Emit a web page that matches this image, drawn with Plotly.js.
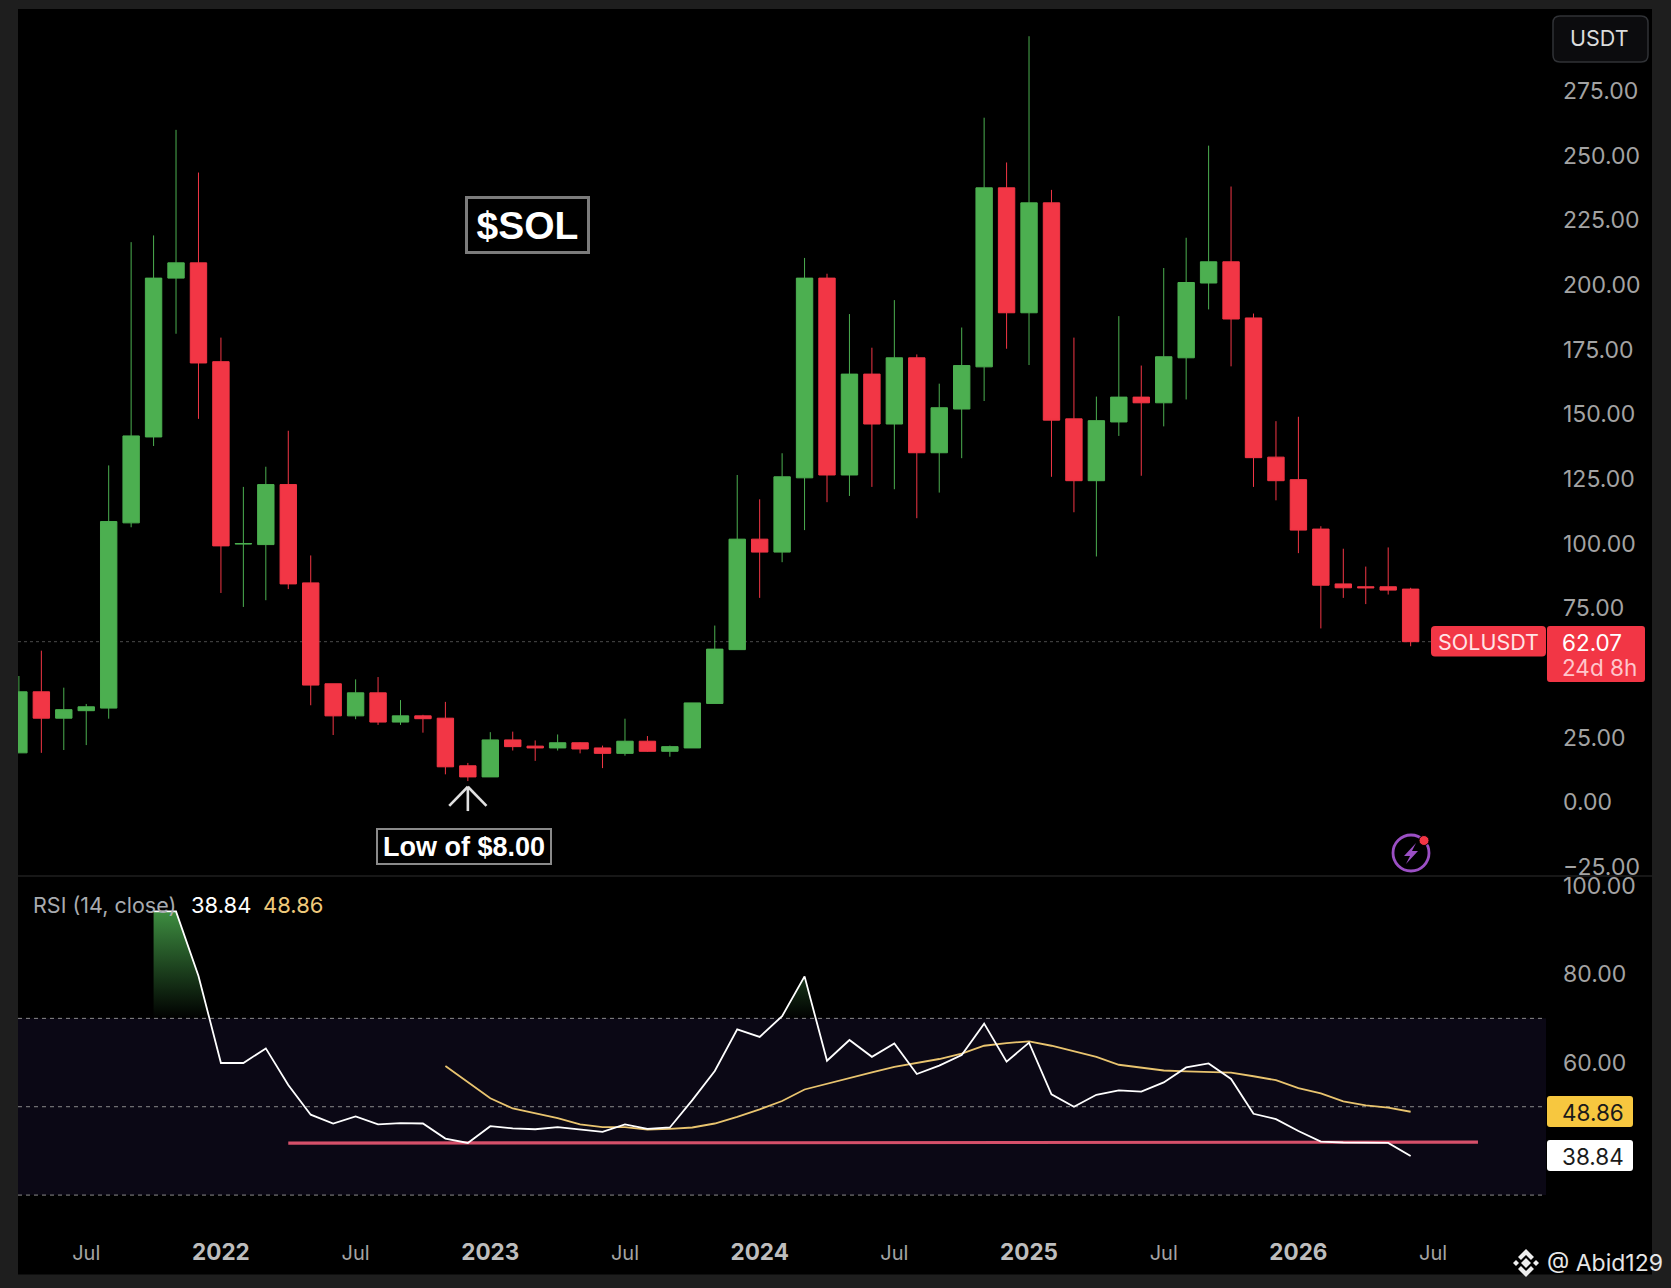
<!DOCTYPE html>
<html><head><meta charset="utf-8">
<script src="https://cdn.plot.ly/plotly-3.0.1.min.js"></script>
<style>html,body{margin:0;padding:0;background:#1e1e1e}#c{width:1671px;height:1288px}</style>
</head><body><div id="c"></div>
<script>
const months=["Apr 2021","May 2021","Jun 2021","Jul 2021","Aug 2021","Sep 2021","Oct 2021","Nov 2021","Dec 2021",
"Jan 2022","Feb 2022","Mar 2022","Apr 2022","May 2022","Jun 2022","Jul 2022","Aug 2022","Sep 2022","Oct 2022","Nov 2022","Dec 2022",
"Jan 2023","Feb 2023","Mar 2023","Apr 2023","May 2023","Jun 2023","Jul 2023","Aug 2023","Sep 2023","Oct 2023","Nov 2023","Dec 2023",
"Jan 2024","Feb 2024","Mar 2024","Apr 2024","May 2024","Jun 2024","Jul 2024","Aug 2024","Sep 2024","Oct 2024","Nov 2024","Dec 2024",
"Jan 2025","Feb 2025","Mar 2025","Apr 2025","May 2025","Jun 2025","Jul 2025","Aug 2025","Sep 2025","Oct 2025","Nov 2025","Dec 2025",
"Jan 2026","Feb 2026","Mar 2026","Apr 2026","May 2026","Jun 2026"];
const opens=[19.1,42.7,32.5,35.4,36.4,108,141.2,202.6,208.5,170.3,99.8,99.6,122.8,84.8,45.8,33.4,42.3,31,33.4,32.5,14.1,9.8,24.1,21.7,21,23,21,18.9,23.6,19.7,21,38.2,59,101.7,96.7,125.4,202.6,126.5,165.5,146.2,171.8,135.1,152,168.3,237.5,189.2,231.7,148.2,124.3,147,156.6,154.4,171.8,200.7,208.9,187.2,133.4,124.7,105.6,84.4,83.3,83.3,82.4];
const highs=[48.8,58.6,44.3,38,130.2,216.5,219.1,259.9,243.4,179.6,121.9,129.7,143.6,95.4,45.8,47.5,48.4,39.5,33.8,38.8,15.2,27.1,27.3,23.9,26.2,23.2,21.9,32.3,25.6,21.9,38.4,68.3,126.5,117.1,134.9,210.4,204.3,188.7,175.7,194.1,173.1,161.8,183.5,264.6,247.3,296.1,236.7,179.6,156.8,187.9,168.8,206.5,218.2,253.8,238,188.9,147.3,149,106.7,98,91.1,98.5,82.9];
const lows=[19.1,19.1,20.2,22.1,32.3,106.3,137.7,181.1,148.2,80.9,75.5,78.1,82.4,37.5,26,32.1,29.9,29.9,26.9,10.8,8.2,9.8,20,16,20,18.9,13.2,18,19.5,17.6,21,38.2,59,79,92.8,105.2,116,118.4,121.9,121,109.8,119.7,133,155.1,175.3,169,125.8,112.1,95,141.6,126.2,145.3,155.7,190.5,168.5,121.9,116.7,96.3,67.2,79,76.6,80.3,60.3];
const closes=[42.7,32.5,35.8,36.9,108.5,141.6,202.6,208.5,169.8,99.1,100,122.8,84.4,45.3,33.4,42.3,31,33.4,32.3,13.7,9.8,24.1,21.5,21,23,20.6,18.9,23.6,19.7,21.5,38.4,59.2,101.7,96.7,125.8,202.6,126.5,165.5,146.2,171.8,135.1,152.5,168.8,237.5,189.2,231.7,147.7,124.3,147.5,156.6,154.4,172.2,200.9,208.9,186.8,133.2,124.3,105.2,83.9,82.9,82.9,82,62.07];
const rsiValues=[null,null,null,null,null,null,94.2,94.2,79.6,59.9,59.9,63.2,54.9,48.2,46.2,47.8,46.0,46.3,46.2,42.8,41.8,45.6,45.1,44.9,45.4,44.8,44.3,46.0,45.0,45.3,51.5,58.1,67.5,65.8,70.5,79.5,60.4,65.1,61.3,64.3,57.4,59.3,61.7,68.8,60.2,64.5,52.8,50.0,52.7,53.7,53.4,55.5,58.9,59.8,56.3,48.4,47.2,44.5,42.1,41.9,41.9,41.8,38.84];
const rsiMa=[null,null,null,null,null,null,null,null,null,null,null,null,null,null,null,null,null,null,null,59.2,55.5,51.9,49.6,48.5,47.4,46.0,45.4,45.4,44.8,45.0,45.3,46.2,47.7,49.4,51.3,53.9,55.2,56.6,57.8,59.0,59.9,60.8,62.0,63.8,64.4,64.8,63.8,62.6,61.3,59.5,58.9,58.2,58.0,57.8,57.7,56.9,56.0,54.2,53.0,51.2,50.3,49.8,48.86];
const priceTicks=[-25,0,25,75,100,125,150,175,200,225,250,275];
const rsiTicks=[60,80,100];
const rsiLevels=[70,50,30];
const timeLabels=["Jul","2022","Jul","2023","Jul","2024","Jul","2025","Jul","2026","Jul"];
const timeTickIndex=[3,9,15,21,27,33,39,45,51,57,63];
const supportX=[12,65];
const supportY=[41.75,42.0];
const lastPrice=62.07;

const W=1671,H=1288;
const GREEN='#4CAF50',RED='#F23645';
const px=v=>v/W, py=v=>1-v/H;
const xs=months.map((_,i)=>i);
const P=(x,y)=>px(x).toFixed(5)+','+py(y).toFixed(5);
function roundRect(x0,y0,x1,y1,r){
  return 'M'+P(x0+r,y0)+' L'+P(x1-r,y0)+' Q'+P(x1,y0)+' '+P(x1,y0+r)+' L'+P(x1,y1-r)+' Q'+P(x1,y1)+' '+P(x1-r,y1)+' L'+P(x0+r,y1)+' Q'+P(x0,y1)+' '+P(x0,y1-r)+' L'+P(x0,y0+r)+' Q'+P(x0,y0)+' '+P(x0+r,y0)+' Z';
}
function poly(points){return 'M'+points.map(p=>P(p[0],p[1])).join(' L')+' Z';}
const pp={xref:'paper',yref:'paper'};

const fx=[],fy=[];
(function(){
  let open=false;
  for(let i=0;i<rsiValues.length;i++){
    const v=rsiValues[i]; if(v==null) continue;
    const pv=i>0?rsiValues[i-1]:null;
    if(v>=70){
      if(!open){
        if(pv!=null){const t=(70-pv)/(v-pv);fx.push(i-1+t);fy.push(70);}
        else{fx.push(i);fy.push(70);}
        open=true;
      }
      fx.push(i);fy.push(v);
    }else if(open){
      const t=(70-pv)/(v-pv);fx.push(i-1+t);fy.push(70);fx.push(null);fy.push(null);open=false;
    }
  }
})();

const traces=[
 {type:'candlestick',x:xs,open:opens,high:highs,low:lows,close:closes,xaxis:'x',yaxis:'y',whiskerwidth:0,
  increasing:{line:{color:GREEN,width:1},fillcolor:GREEN},decreasing:{line:{color:RED,width:1},fillcolor:RED},hoverinfo:'skip',showlegend:false},
 {type:'scatter',mode:'none',x:fx,y:fy,xaxis:'x',yaxis:'y2',fill:'toself',
  fillgradient:{type:'vertical',start:70,stop:100,colorscale:[[0,'rgba(76,175,80,0)'],[1,'rgba(76,175,80,1)']]},hoverinfo:'skip',showlegend:false},
 {type:'scatter',mode:'lines',x:supportX,y:supportY,xaxis:'x',yaxis:'y2',line:{color:'#d6506a',width:3.2},hoverinfo:'skip',showlegend:false},
 {type:'scatter',mode:'lines',x:xs,y:rsiMa,xaxis:'x',yaxis:'y2',line:{color:'#e9c46f',width:1.8},hoverinfo:'skip',showlegend:false},
 {type:'scatter',mode:'lines',x:xs,y:rsiValues,xaxis:'x',yaxis:'y2',line:{color:'#ffffff',width:1.8},hoverinfo:'skip',showlegend:false}
];

const dim='#a3a3a3';
const shapes=[
 Object.assign({type:'rect',x0:px(18),x1:px(1652),y0:py(9),y1:py(1274.5),fillcolor:'#000',line:{width:0},layer:'below'},pp),
 {type:'rect',xref:'paper',yref:'y2',x0:px(18),x1:px(1546),y0:30,y1:70,fillcolor:'#0b0815',line:{width:0},layer:'below'},
 Object.assign({type:'line',x0:px(18),x1:px(1652),y0:py(876),y1:py(876),line:{color:'#2e2e2e',width:1.2},layer:'below'},pp),
 {type:'line',xref:'paper',yref:'y',x0:px(18),x1:px(1546),y0:lastPrice,y1:lastPrice,line:{color:'#4a4a4a',width:1,dash:'dot'},layer:'below'},
 ...rsiLevels.map(l=>({type:'line',xref:'paper',yref:'y2',x0:px(18),x1:px(1546),y0:l,y1:l,line:{color:'#8a8a8a',width:1,dash:'4px,4px'},layer:'below'})),
 {type:'line',xref:'x',yref:'y',x0:20,x1:20,y0:6,y1:-3.4,line:{color:'#e0e0e0',width:2.6}},
 {type:'line',xref:'x',yref:'y',x0:19.17,x1:20,y0:-1.4,y1:6,line:{color:'#e0e0e0',width:2.6}},
 {type:'line',xref:'x',yref:'y',x0:20.83,x1:20,y0:-1.4,y1:6,line:{color:'#e0e0e0',width:2.6}},
 Object.assign({type:'path',path:roundRect(1553,16,1648,62,7),fillcolor:'#0c0c0e',line:{color:'#303236',width:1.5}},pp),
 Object.assign({type:'path',path:roundRect(1431,626,1546,656.5,4),fillcolor:RED,line:{width:0}},pp),
 Object.assign({type:'path',path:roundRect(1547,626,1645,682,3),fillcolor:RED,line:{width:0}},pp),
 Object.assign({type:'path',path:roundRect(1547,1096,1633,1127,3),fillcolor:'#f7c73f',line:{width:0}},pp),
 Object.assign({type:'path',path:roundRect(1547,1140,1633,1171,3),fillcolor:'#ffffff',line:{width:0}},pp),
 Object.assign({type:'circle',x0:px(1393),x1:px(1429),y0:py(835),y1:py(871),line:{color:'#9b4fc4',width:2.8},fillcolor:'rgba(0,0,0,0)'},pp),
 Object.assign({type:'path',path:poly([[1416,843],[1404,856],[1410,856],[1406,864],[1418,851],[1412,851]]),fillcolor:'#9b4fc4',line:{width:0}},pp),
 Object.assign({type:'circle',x0:px(1419),x1:px(1429),y0:py(835.5),y1:py(845.5),line:{color:'#000',width:1},fillcolor:'#f23645'},pp),
 Object.assign({type:'path',path:poly([[1526,1258],[1531,1263],[1526,1268],[1521,1263]]),fillcolor:'#eee',line:{width:0}},pp),
 Object.assign({type:'path',path:poly([[1516,1260],[1519,1263],[1516,1266],[1513,1263]]),fillcolor:'#eee',line:{width:0}},pp),
 Object.assign({type:'path',path:poly([[1536,1260],[1539,1263],[1536,1266],[1533,1263]]),fillcolor:'#eee',line:{width:0}},pp),
 Object.assign({type:'path',path:poly([[1526,1249],[1534,1257],[1531,1260],[1526,1255],[1521,1260],[1518,1257]]),fillcolor:'#eee',line:{width:0}},pp),
 Object.assign({type:'path',path:poly([[1526,1277],[1534,1269],[1531,1266],[1526,1271],[1521,1266],[1518,1269]]),fillcolor:'#eee',line:{width:0}},pp)
];

const FONT='Inter, "Noto Sans", sans-serif';
function label(text,x,y,size,color,anchor,extra){
  return Object.assign({xref:'paper',yref:'paper',x:px(x),y:py(y),text:text,showarrow:false,xanchor:anchor||'left',yanchor:'middle',
    font:{family:FONT,size:size,color:color},borderpad:0},extra||{});
}
const annotations=[
 label('<b>$SOL</b>',527.5,224.5,39,'#ffffff','center',{font:{family:'"Liberation Sans",Arial,sans-serif',size:39,color:'#fff'},bordercolor:'#7c7c7c',borderwidth:3,width:119,height:52,bgcolor:'#000'}),
 label('<b>Low of $8.00</b>',464,846,27,'#ffffff','center',{font:{family:'"Liberation Sans",Arial,sans-serif',size:27,color:'#fff'},bordercolor:'#8a8a8a',borderwidth:2,width:172,height:33,bgcolor:'#000'}),
 label('USDT',1599.5,38.5,21.5,'#dcdcdc','center'),
 label('SOLUSDT',1437,642,21.5,'#ffe3e6','left'),
 label('62.07',1561,642,22.5,'#ffffff','left'),
 label('24d 8h',1561,667.5,22.5,'#ffc6cc','left'),
 label('48.86',1561,1112,22.5,'#1a1a1a','left'),
 label('38.84',1561,1156,22.5,'#1a1a1a','left'),
 label('RSI (14, close)',32,905,21.5,'#a8abb0','left'),
 label('38.84',190,905,22,'#ffffff','left'),
 label('48.86',262,905,22,'#efc97b','left'),
 label('@ Abid129',1546,1263,23,'#e6e6e6','left')
];

const timeText=timeLabels.map(t=>/^\d/.test(t)?'<span style="color:#bdbdbd;font-size:22.5px"><b>'+t+'</b></span>':t);
const layout={
 width:W,height:H,margin:{l:0,r:0,t:0,b:0,pad:0},paper_bgcolor:'#1e1e1e',plot_bgcolor:'rgba(0,0,0,0)',showlegend:false,hovermode:false,
 font:{family:FONT},
 xaxis:{domain:[px(18),px(1546)],anchor:'y2',type:'linear',range:[-0.04,68.03],rangeslider:{visible:false},tickmode:'array',tickvals:timeTickIndex,ticktext:timeText,
   tickfont:{family:FONT,size:20,color:'#a3a3a3'},showgrid:false,zeroline:false,showline:false,ticks:'',ticklabelstandoff:6,automargin:false},
 yaxis:{domain:[1-876/H,1-9/H],range:[-28.5,306.62],side:'right',anchor:'x',tickmode:'array',tickvals:priceTicks,tickformat:'.2f',
   tickfont:{family:FONT,size:23,color:dim},showgrid:false,zeroline:false,showline:false,ticks:'',ticklabelstandoff:16,automargin:false},
 yaxis2:{domain:[1-1233/H,1-876/H],range:[21.42,102.22],side:'right',anchor:'x',tickmode:'array',tickvals:rsiTicks,tickformat:'.2f',
   tickfont:{family:FONT,size:23,color:dim},showgrid:false,zeroline:false,showline:false,ticks:'',ticklabelstandoff:16,automargin:false},
 boxgap:0.27,boxgroupgap:0,
 shapes:shapes,annotations:annotations
};
Plotly.newPlot('c',traces,layout,{displayModeBar:false,staticPlot:true});
</script></body></html>
